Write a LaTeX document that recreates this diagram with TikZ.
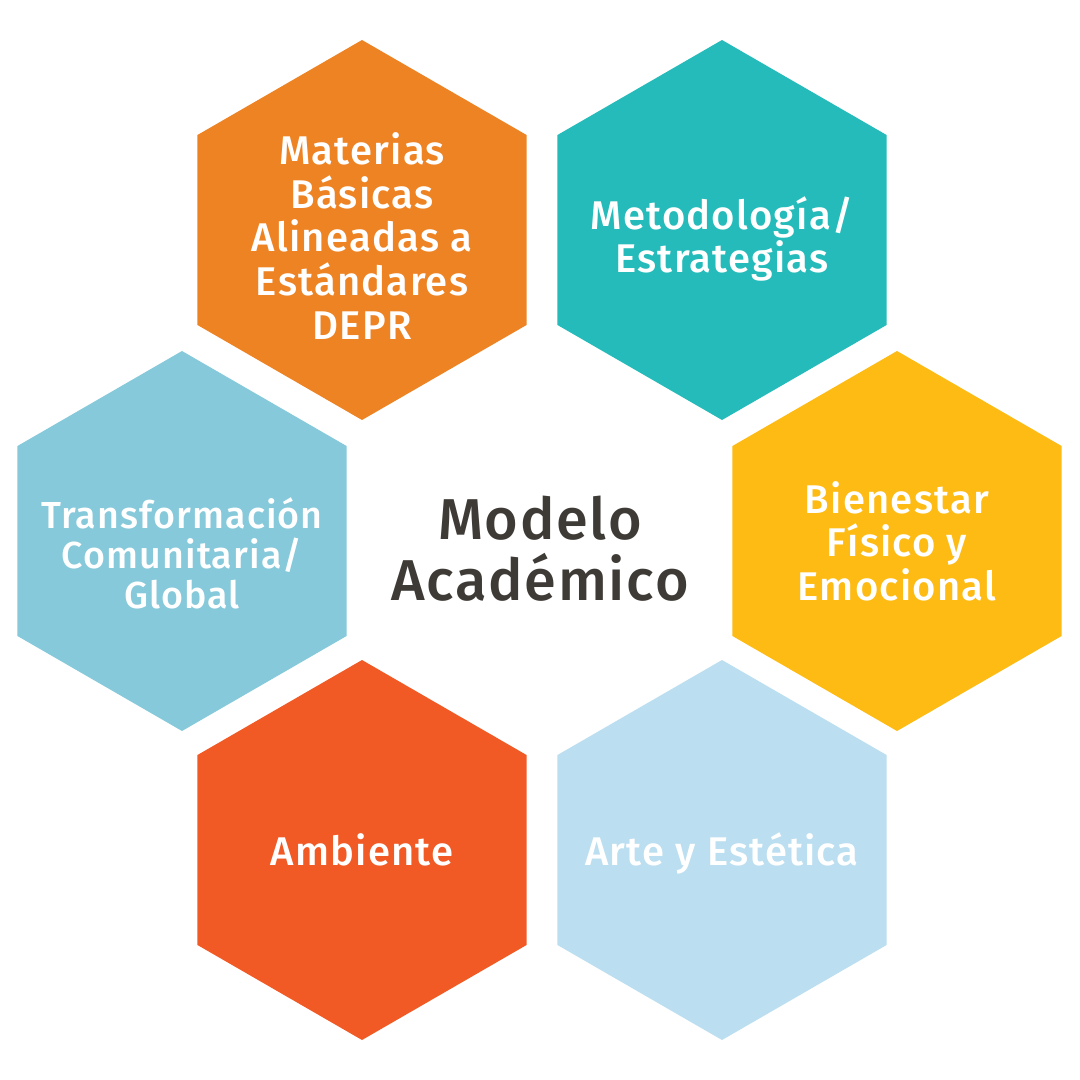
\documentclass[tikz,border=0pt]{standalone}
\usepackage{fontspec}
\setmainfont{Fira Sans}[BoldFont={Fira Sans Medium}, LetterSpace=3]
\usetikzlibrary{shapes.geometric}

\definecolor{materias}{HTML}{EE8323}
\definecolor{metodo}{HTML}{24BBBA}
\definecolor{transf}{HTML}{86C9DA}
\definecolor{bienestar}{HTML}{FDBB13}
\definecolor{ambiente}{HTML}{F15A25}
\definecolor{arte}{HTML}{BBDEF0}
\definecolor{centro}{HTML}{3E3A36}

\tikzset{
  hexa/.style={regular polygon, regular polygon sides=6, shape border rotate=30,
    minimum size=3.8cm, inner sep=0pt, fill=#1},
  hexlabel/.style={text=white, align=center,
    font=\fontsize{11.4}{12.4}\selectfont\bfseries},
  smalllabel/.style={hexlabel, font=\fontsize{10.7}{11.4}\selectfont\bfseries},
  modelo/.style={text=centro, align=center,
    font=\fontsize{16.4}{17.3}\selectfont\bfseries}
}

\begin{document}
\begin{tikzpicture}
\useasboundingbox (0,0) rectangle (10.8,-10.8);

\node[hexa=materias, label={[hexlabel, yshift=-0.06cm]center:Materias\\Básicas\\Alineadas a\\Estándares\\DEPR}] (A) at (3.62,-2.30) {};
\node[hexa=metodo, label={[hexlabel, yshift=-0.09cm]center:Metodología/\\Estrategias}] (B) at (7.22,-2.30) {};
\node[hexa=transf, label={[smalllabel, yshift=-0.12cm]center:Transformación\\Comunitaria/\\Global}] (C) at (1.82,-5.41) {};
\node[hexa=bienestar, label={[hexlabel]center:Bienestar\\Físico y\\Emocional}] (D) at (8.97,-5.41) {};
\node[hexa=ambiente, label={[hexlabel]center:Ambiente}] (E) at (3.62,-8.50) {};
\node[hexa=arte, label={[hexlabel, yshift=-0.03cm]center:Arte y Estética}] (F) at (7.22,-8.50) {};

\node[modelo] (M) at (5.40,-5.49) {Modelo\\Académico};

\end{tikzpicture}
\end{document}
